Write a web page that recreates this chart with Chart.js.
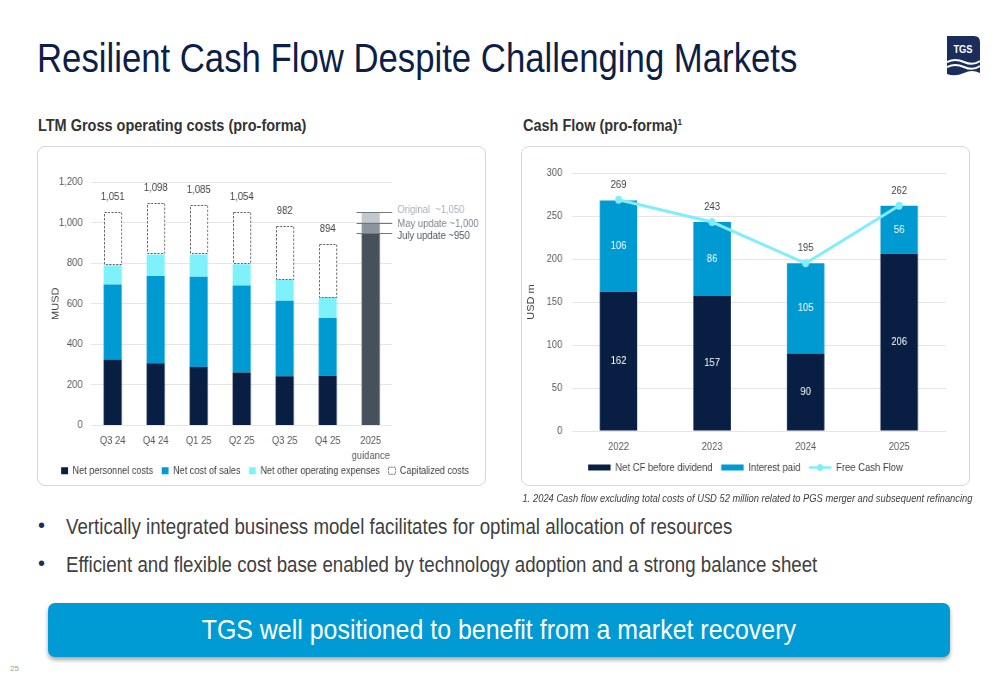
<!DOCTYPE html>
<html><head><meta charset="utf-8">
<script src="https://cdn.jsdelivr.net/npm/chart.js@4.4.1/dist/chart.umd.min.js"></script>
<style>
body{margin:0;width:1000px;height:685px;background:#fff;position:relative;overflow:hidden;font-family:'Liberation Sans',Arial,sans-serif;}
.abs{position:absolute;white-space:nowrap;}
.sq{display:inline-block;transform-origin:left center;}
.title{left:37px;top:38px;font-size:40px;line-height:40px;color:#0d1f47;}
.title .sq{transform:scaleX(0.868);}
.sub{font-size:16px;line-height:16px;font-weight:bold;color:#333;top:118px;}
.sub .sq{transform:scaleX(0.905);}
.panel{position:absolute;top:146px;width:449px;height:340px;border:1px solid #d3d6da;border-radius:8px;box-sizing:border-box;pointer-events:none;}
canvas{position:absolute;top:146px;width:449px;height:340px;}
.bullet{font-size:22px;line-height:22px;color:#404040;left:66px;}
.bullet .sq{transform:scaleX(0.85);}
.dot{font-size:20px;line-height:22px;color:#1b2d5b;left:38px;}
.banner{left:48px;top:603px;width:902px;height:54px;background:#009bd5;border-radius:7px;box-shadow:0 3px 4px rgba(0,0,0,0.35);color:#fff;font-size:28px;line-height:54px;text-align:center;}
.banner .sq{transform:scaleX(0.89);transform-origin:center center;}
.foot{right:28px;top:492px;font-size:10.5px;font-style:italic;color:#404040;}
.foot .sq{transform:scaleX(0.89);transform-origin:right center;}
.pg{left:10px;top:664px;font-size:8px;color:#a0a0a0;}
</style></head>
<body>
<div class="abs title"><span class="sq">Resilient Cash Flow Despite Challenging Markets</span></div>
<svg class="abs" style="left:947px;top:36px" width="34" height="44" viewBox="0 0 34 44">
<path d="M0 0 H27 Q33 0 33 6 V37 Q25 33 17 37 Q8 41 0 38 Z" fill="#1b2d5b"/>
<text x="16" y="17" font-family="Liberation Sans, sans-serif" font-weight="bold" font-size="11" fill="#fff" text-anchor="middle" transform="translate(16 0) scale(0.85 1) translate(-16 0)">TGS</text>
<path d="M0 26 Q8 22 17 26 T33 25" stroke="#fff" stroke-width="2" fill="none"/>
<path d="M0 31 Q8 27 17 31 T33 30" stroke="#fff" stroke-width="2" fill="none"/>
</svg>
<div class="abs sub" style="left:38px"><span class="sq">LTM Gross operating costs (pro-forma)</span></div>
<div class="abs sub" style="left:523px"><span class="sq">Cash Flow (pro-forma)<sup style="font-size:9px;vertical-align:6px;line-height:0">1</sup></span></div>

<canvas id="costChart" width="522" height="340" style="left:37px;width:449px;height:340px"></canvas>
<div class="panel" style="left:37px"></div>
<canvas id="cfChart" width="522" height="340" style="left:521px;width:449px;height:340px"></canvas>
<div class="panel" style="left:521px"></div>

<div class="abs foot"><span class="sq">1. 2024 Cash flow excluding total costs of USD 52 million related to PGS merger and subsequent refinancing</span></div>
<div class="abs dot" style="top:514px">•</div>
<div class="abs bullet" style="top:516px"><span class="sq">Vertically integrated business model facilitates for optimal allocation of resources</span></div>
<div class="abs dot" style="top:552px">•</div>
<div class="abs bullet" style="top:554px"><span class="sq">Efficient and flexible cost base enabled by technology adoption and a strong balance sheet</span></div>
<div class="abs banner"><span class="sq">TGS well positioned to benefit from a market recovery</span></div>
<div class="abs pg">25</div>

<script>
// ---------- Data: LTM gross operating costs ----------
const costCategories = ['Q3 24', 'Q4 24', 'Q1 25', 'Q2 25', 'Q3 25', 'Q4 25', ['2025', 'guidance']];
const personnelCosts = [325, 306, 288, 261, 242, 245, null];
const costOfSales = [370, 430, 445, 429, 373, 284, null];
const otherOpex = [95, 107, 110, 104, 103, 101, null];
const capitalizedCosts = [261, 255, 242, 260, 264, 264, null];
const totalCosts = [1051, 1098, 1085, 1054, 982, 894, null];
const guidanceJuly = [null, null, null, null, null, null, 950];
const guidanceMay = [null, null, null, null, null, null, 50];
const guidanceOriginal = [null, null, null, null, null, null, 50];
const guidanceLevels = [1050, 1000, 950];
const guidanceLabels = ['Original  ~1,050', 'May update ~1,000', 'July update ~950'];

// ---------- Data: Cash flow ----------
const cfYears = ['2022', '2023', '2024', '2025'];
const netCFBeforeDividend = [162, 157, 90, 206];
const interestPaid = [106, 86, 105, 56];
const freeCashFlow = [269, 243, 195, 262];

const FONT = "'Liberation Sans',Arial,sans-serif";
const NAVY = '#081e42', BLUE = '#009ad3', CYAN = '#7ff1fb', LINE = '#80eefa';
const TICK = '#595959';
Chart.defaults.font.family = FONT;
Chart.defaults.font.size = 11;
Chart.defaults.color = TICK;

const fmt = v => v.toLocaleString('en-US');

const costOverlay = {
  id: 'costOverlay',
  afterDatasetsDraw(chart) {
    const ctx = chart.ctx, ys = chart.scales.y;
    ctx.save();
    const capMeta = chart.getDatasetMeta(3);
    ctx.strokeStyle = '#606060'; ctx.lineWidth = 1; ctx.setLineDash([2.5, 1.5]);
    capMeta.data.forEach((el, i) => {
      if (capitalizedCosts[i] == null) return;
      const p = el.getProps(['x', 'y', 'base', 'width'], true);
      const l = Math.round(p.x - p.width / 2) + 0.5, r = Math.round(p.x + p.width / 2) - 0.5;
      const t = Math.round(p.y) + 0.5, b = Math.round(p.base) - 0.5;
      ctx.strokeRect(l, t, r - l, b - t);
    });
    ctx.setLineDash([]);
    ctx.fillStyle = '#404040'; ctx.font = '11px ' + FONT;
    ctx.textAlign = 'center'; ctx.textBaseline = 'middle';
    capMeta.data.forEach((el, i) => {
      if (totalCosts[i] == null) return;
      ctx.fillText(fmt(totalCosts[i]), el.x, ys.getPixelForValue(totalCosts[i]) - 15);
    });
    const gel = chart.getDatasetMeta(4).data[6];
    const gp = gel.getProps(['x', 'width'], true);
    const x0 = gp.x - gp.width / 2 - 6, x1 = chart.chartArea.right;
    const textCols = ['#a9b1b8', '#7c858d', '#4d555d'];
    const textOff = [-3, 0, 2];
    ctx.textAlign = 'left';
    guidanceLevels.forEach((v, k) => {
      const y = Math.round(ys.getPixelForValue(v)) + 0.5;
      ctx.strokeStyle = '#6f7880'; ctx.lineWidth = 1;
      ctx.beginPath(); ctx.moveTo(x0, y); ctx.lineTo(x1, y); ctx.stroke();
      ctx.fillStyle = textCols[k];
      ctx.fillText(guidanceLabels[k], x1 + 6, y + textOff[k]);
    });
    ctx.restore();
  }
};

new Chart(document.getElementById('costChart'), {
  type: 'bar',
  data: {
    labels: costCategories,
    datasets: [
      { label: 'Net personnel costs', data: personnelCosts, backgroundColor: NAVY },
      { label: 'Net cost of sales', data: costOfSales, backgroundColor: BLUE },
      { label: 'Net other operating expenses', data: otherOpex, backgroundColor: CYAN },
      { label: 'Capitalized costs', data: capitalizedCosts, backgroundColor: '#ffffff' },
      { label: 'g1', data: guidanceJuly, backgroundColor: '#47515b' },
      { label: 'g2', data: guidanceMay, backgroundColor: '#8d959c' },
      { label: 'g3', data: guidanceOriginal, backgroundColor: '#c3c8cc' }
    ]
  },
  options: {
    responsive: false, animation: false, devicePixelRatio: 1,
    datasets: { bar: { categoryPercentage: 1, barPercentage: 0.42, borderWidth: 0 } },
    layout: { padding: { left: 8, top: 36, right: 0, bottom: 0 } },
    scales: {
      x: {
        stacked: true,
        grid: { display: false, drawTicks: false }, border: { display: false },
        ticks: { padding: 8, color: TICK, font: { size: 11, lineHeight: 1.35 }, maxRotation: 0, autoSkip: false },
        afterFit(s) { s.height = 36; }
      },
      y: {
        stacked: true, min: 0, max: 1200,
        ticks: { stepSize: 200, padding: 10, color: TICK, callback: v => fmt(v) },
        grid: { color: '#e6e6e6', drawTicks: false }, border: { display: false },
        title: { display: true, text: 'MUSD', color: '#404040', font: { size: 11 }, padding: { top: 7, bottom: 0 } },
        afterFit(s) { s.width = 55; }
      },
      yR: {
        position: 'right', display: true,
        grid: { display: false, drawTicks: false }, border: { display: false }, ticks: { display: false },
        afterFit(s) { s.width = 109; }
      }
    },
    plugins: {
      tooltip: { enabled: false },
      legend: {
        position: 'bottom',
        labels: {
          boxWidth: 8, boxHeight: 7, padding: 4, color: '#404040', font: { size: 10.6 },
          filter: item => item.datasetIndex < 4,
          generateLabels(chart) {
            const items = Chart.defaults.plugins.legend.labels.generateLabels(chart);
            items.forEach(it => {
              it.lineWidth = 0;
              if (it.datasetIndex < 3) it.text = it.text + '  ';
              if (it.datasetIndex === 3) { it.lineWidth = 1; it.strokeStyle = '#606060'; it.lineDash = [2, 1]; it.fillStyle = '#fff'; }
            });
            return items;
          }
        }
      }
    }
  },
  plugins: [costOverlay]
});

const cfOverlay = {
  id: 'cfOverlay',
  afterDraw(chart) {
    const ctx = chart.ctx, ys = chart.scales.y;
    ctx.save();
    ctx.font = '11px ' + FONT; ctx.textAlign = 'center'; ctx.textBaseline = 'middle';
    ctx.fillStyle = '#ffffff';
    [0, 1].forEach(di => {
      const vals = di === 0 ? netCFBeforeDividend : interestPaid;
      chart.getDatasetMeta(di).data.forEach((el, i) => {
        const p = el.getProps(['x', 'y', 'base'], true);
        ctx.fillText(String(vals[i]), p.x, (p.y + p.base) / 2);
      });
    });
    ctx.fillStyle = '#404040';
    chart.getDatasetMeta(1).data.forEach((el, i) => {
      ctx.fillText(String(freeCashFlow[i]), el.x, ys.getPixelForValue(freeCashFlow[i]) - 15);
    });
    const lg = chart.legend;
    if (lg && lg.legendHitBoxes) {
      const idx = lg.legendItems.findIndex(it => it.datasetIndex === 2);
      const hb = lg.legendHitBoxes[idx];
      if (hb) {
        const bw = lg.options.labels.boxWidth;
        const cy = hb.top + hb.height / 2;
        ctx.strokeStyle = LINE; ctx.lineWidth = 2.5;
        ctx.beginPath(); ctx.moveTo(hb.left, cy); ctx.lineTo(hb.left + bw, cy); ctx.stroke();
        ctx.fillStyle = LINE; ctx.beginPath(); ctx.arc(hb.left + bw / 2, cy, 3.5, 0, Math.PI * 2); ctx.fill();
      }
    }
    ctx.restore();
  }
};

new Chart(document.getElementById('cfChart'), {
  type: 'bar',
  data: {
    labels: cfYears,
    datasets: [
      { label: 'Net CF before dividend', data: netCFBeforeDividend, backgroundColor: NAVY, stack: 'cf', order: 2 },
      { label: 'Interest paid', data: interestPaid, backgroundColor: BLUE, stack: 'cf', order: 2 },
      { type: 'line', label: 'Free Cash Flow', data: freeCashFlow, borderColor: LINE, backgroundColor: LINE,
        borderWidth: 3, pointRadius: 4, pointBackgroundColor: LINE, pointBorderWidth: 0, stack: 'fcf', order: 1, tension: 0 }
    ]
  },
  options: {
    responsive: false, animation: false, devicePixelRatio: 1,
    datasets: { bar: { categoryPercentage: 1, barPercentage: 0.40, borderWidth: 0 } },
    layout: { padding: { left: 0, top: 27, right: 0, bottom: 3 } },
    scales: {
      x: {
        stacked: true,
        grid: { display: false, drawTicks: false }, border: { display: false },
        ticks: { padding: 9, color: TICK, font: { size: 11 } },
        afterFit(s) { s.height = 21; }
      },
      y: {
        stacked: true, min: 0, max: 300,
        ticks: { stepSize: 50, padding: 11, color: TICK },
        grid: { color: '#e6e6e6', drawTicks: false }, border: { display: false },
        title: { display: true, text: 'USD m', color: '#404040', font: { size: 11 }, padding: { top: 5, bottom: 0 } },
        afterFit(s) { s.width = 59; }
      },
      yR: {
        position: 'right', display: true,
        grid: { display: false, drawTicks: false }, border: { display: false }, ticks: { display: false },
        afterFit(s) { s.width = 28; }
      }
    },
    plugins: {
      tooltip: { enabled: false },
      legend: {
        position: 'bottom',
        labels: {
          boxWidth: 26, boxHeight: 6, padding: 10, color: '#404040', font: { size: 11 },
          sort: (a, b) => a.datasetIndex - b.datasetIndex,
          generateLabels(chart) {
            const items = Chart.defaults.plugins.legend.labels.generateLabels(chart);
            items.forEach(it => {
              it.lineWidth = 0;
              if (it.datasetIndex === 2) { it.fillStyle = 'rgba(0,0,0,0)'; it.strokeStyle = 'rgba(0,0,0,0)'; }
            });
            return items;
          }
        }
      }
    }
  },
  plugins: [cfOverlay]
});
</script>
</body></html>
